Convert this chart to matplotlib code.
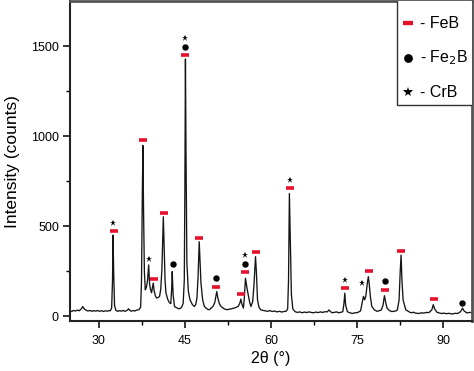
import matplotlib
matplotlib.use("Agg")
import matplotlib.pyplot as plt
from matplotlib.patches import Rectangle

plt.rcParams['font.family'] = ['Liberation Sans', 'DejaVu Sans']

# XRD trace (2theta in degrees, intensity in counts)
two_theta = [25.0, 25.3, 25.6, 26.0, 26.3, 26.6, 27.0, 27.2, 27.5, 27.8, 28.1, 28.5, 28.8, 29.1, 29.5,
             29.8, 30.1, 30.5, 30.8, 31.1, 31.5, 31.8, 32.0, 32.25, 32.4, 32.5, 32.6, 32.75, 33.0, 33.3,
             33.6, 34.0, 34.3, 34.6, 35.0, 35.2, 35.4, 35.7, 36.0, 36.3, 36.6, 37.0, 37.3, 37.45, 37.6,
             37.7, 37.8, 37.95, 38.1, 38.3, 38.5, 38.7, 38.85, 39.0, 39.2, 39.35, 39.5, 39.65, 39.9, 40.1,
             40.4, 40.6, 40.8, 41.0, 41.15, 41.25, 41.4, 41.55, 41.7, 42.0, 42.3, 42.55, 42.7, 42.8, 42.95,
             43.2, 43.5, 43.8, 44.0, 44.4, 44.7, 44.9, 45.0, 45.1, 45.2, 45.35, 45.6, 45.9, 46.3, 46.65,
             46.9, 47.1, 47.3, 47.5, 47.65, 47.8, 48.1, 48.4, 48.8, 49.0, 49.25, 49.6, 49.9, 50.2, 50.4,
             50.55, 50.75, 51.0, 51.3, 51.8, 52.1, 52.4, 52.7, 53.0, 53.3, 53.6, 54.0, 54.3, 54.6, 54.75,
             54.95, 55.2, 55.35, 55.55, 55.7, 55.85, 56.1, 56.3, 56.5, 56.8, 57.05, 57.3, 57.45, 57.65, 57.9,
             58.2, 58.6, 59.0, 59.4, 59.8, 60.2, 60.6, 61.0, 61.5, 61.9, 62.2, 62.6, 62.9, 63.05, 63.2,
             63.35, 63.55, 63.8, 64.2, 64.6, 65.0, 65.4, 65.8, 66.2, 66.6, 67.0, 67.4, 67.8, 68.2, 68.6,
             69.0, 69.4, 69.8, 70.1, 70.4, 70.7, 71.0, 71.4, 71.8, 72.2, 72.5, 72.7, 72.85, 73.0, 73.3,
             73.7, 74.2, 74.6, 75.0, 75.3, 75.6, 75.9, 76.1, 76.3, 76.5, 76.8, 76.95, 77.1, 77.3, 77.55,
             78.0, 78.5, 78.9, 79.2, 79.5, 79.75, 79.95, 80.2, 80.6, 81.0, 81.4, 81.8, 82.0, 82.3, 82.5,
             82.65, 82.8, 83.0, 83.46, 84.0, 84.4, 84.8, 85.2, 85.8, 86.2, 86.6, 87.0, 87.5, 88.0, 88.25,
             88.5, 88.9, 89.3, 89.7, 90.1, 90.5, 91.0, 91.6, 92.0, 92.5, 93.0, 93.35, 93.6, 94.1, 94.5,
             95.0]
counts = [30, 26, 32, 29, 34, 30, 42, 54, 40, 33, 29, 32, 27, 31, 28,
          32, 27, 31, 26, 30, 28, 31, 30, 45, 200, 451, 250, 60, 32, 27,
          31, 28, 32, 27, 34, 41, 32, 28, 31, 29, 34, 36, 50, 200, 700,
          949, 600, 250, 147, 160, 200, 285, 180, 150, 130, 160, 184, 140, 110, 101,
          105, 111, 150, 260, 450, 553, 380, 200, 130, 95, 75, 70, 150, 248, 120,
          54, 48, 43, 41, 48, 70, 200, 700, 1430, 900, 300, 140, 91, 65, 54,
          65, 100, 220, 414, 300, 185, 90, 54, 42, 38, 36, 45, 55, 75, 110,
          137, 100, 70, 54, 42, 38, 36, 39, 40, 43, 45, 50, 55, 75, 95,
          65, 45, 100, 211, 180, 150, 110, 75, 54, 80, 180, 331, 250, 91, 50,
          36, 32, 30, 27, 31, 26, 29, 24, 27, 23, 26, 27, 40, 200, 682,
          450, 120, 40, 25, 21, 24, 19, 23, 20, 24, 21, 19, 23, 20, 24,
          21, 25, 24, 35, 24, 19, 21, 24, 19, 22, 25, 70, 128, 60, 25,
          19, 15, 19, 20, 24, 30, 80, 110, 91, 110, 190, 220, 180, 110, 54,
          35, 27, 31, 35, 60, 114, 80, 45, 32, 26, 27, 30, 35, 90, 250,
          340, 200, 91, 36, 25, 19, 22, 17, 15, 19, 17, 21, 20, 35, 64,
          40, 22, 18, 15, 17, 14, 16, 12, 16, 15, 25, 45, 30, 18, 21,
          20]

# phase markers
feb_x = [32.6, 37.7, 39.55, 41.4, 45.1, 47.5, 50.5, 54.77, 55.5, 57.37, 63.3, 72.85, 77.0, 79.8, 82.65, 88.3]
feb_y = [472, 977, 206, 575, 1452, 436, 165, 123, 247, 358, 711, 156, 249, 148, 364, 97]
fe2b_x = [43.0, 45.1, 50.47, 55.5, 79.85, 93.3]
fe2b_y = [289, 1498, 211, 293, 197, 73]
crb_x = [32.56, 38.8, 45.1, 55.46, 63.3, 72.9, 75.9]
crb_y = [517, 316, 1546, 338, 756, 202, 187]

legend_labels = ['- FeB', '- Fe$_2$B', '- CrB']

red = '#e8112d'

fig = plt.figure(figsize=(4.74, 3.71), dpi=100)
ax = fig.add_axes([0.1477, 0.1356, 0.8481, 0.8604])

ax.plot(two_theta, counts, color='#151515', lw=0.95)
ax.plot(feb_x, feb_y, ls='none', marker='_', ms=6, mew=2.6, color=red)
ax.plot(fe2b_x, fe2b_y, ls='none', marker='o', ms=3.6, color='black')
ax.plot(crb_x, crb_y, ls='none', marker='*', ms=5, color='black', mew=0)

ax.set_xlim(25, 95)
ax.set_ylim(-25, 1750)
ax.set_xticks([30, 45, 60, 75, 90])
ax.set_xticks([37.5, 52.5, 67.5, 82.5], minor=True)
ax.set_yticks([0, 500, 1000, 1500])
ax.set_yticks([250, 750, 1250], minor=True)
ax.tick_params(which='major', direction='out', length=5, width=1.1, labelsize=9, pad=3)
ax.tick_params(which='minor', direction='out', length=3, width=1.0)
ax.tick_params(axis='x', which='major', pad=5)

for s in ['left', 'bottom']:
    ax.spines[s].set_linewidth(1.5)
    ax.spines[s].set_color('#222222')
for s in ['top', 'right']:
    ax.spines[s].set_linewidth(2.0)
    ax.spines[s].set_color('#555555')

ax.set_xlabel('2θ (°)', fontsize=11.5, labelpad=3)
ax.set_ylabel('Intensity (counts)', fontsize=12.5, labelpad=8)

# legend box drawn by hand in axes coordinates
ax.add_patch(Rectangle((0.8127, 0.6747), 0.3, 0.4, transform=ax.transAxes, fill=True,
                       facecolor='white', edgecolor='#333333', lw=1.0, zorder=5, clip_on=True))
rows = [0.9321, 0.8239, 0.7163]
ax.plot([0.8396], [rows[0]], transform=ax.transAxes, marker='_', ms=6.7, mew=3.1, color=red, zorder=6)
ax.plot([0.8396], [rows[1]], transform=ax.transAxes, marker='o', ms=5.3, color='black', zorder=6)
ax.plot([0.8396], [rows[2]], transform=ax.transAxes, marker='*', ms=7, color='black', mew=0, zorder=6)
for yy, lab in zip(rows, legend_labels):
    ax.text(0.8700, yy, lab, transform=ax.transAxes, fontsize=11.5, va='center', ha='left', zorder=6)

fig.savefig('out.png', dpi=100)
